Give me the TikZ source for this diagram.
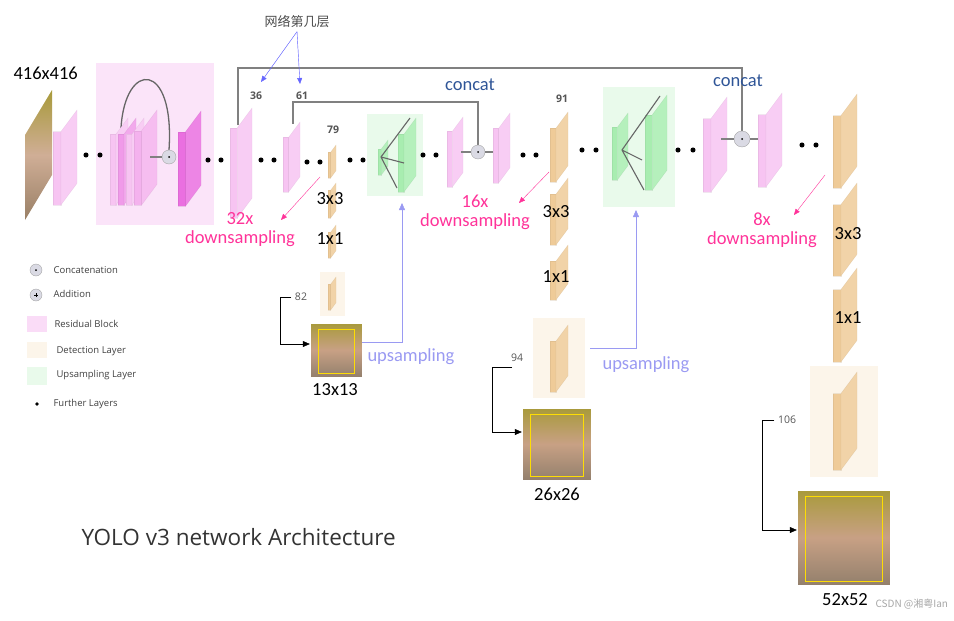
\documentclass[tikz,border=0pt]{standalone}
\usepackage{fontspec}
\setmainfont{Carlito}
\newfontfamily\legendfont{Open Sans}
\newfontfamily\cjk{Noto Sans CJK SC}
\usetikzlibrary{arrows.meta,positioning}
\definecolor{respink}{HTML}{F7C4F2}
\definecolor{resdark}{HTML}{EA6FE0}
\definecolor{resmid}{HTML}{F09AE9}
\definecolor{resmix}{HTML}{F4B2EE}
\definecolor{detorange}{HTML}{EFCB98}
\definecolor{upgreen}{HTML}{A8EDB0}
\definecolor{downpink}{HTML}{FF3399}
\definecolor{upviolet}{HTML}{9A9AF2}
\definecolor{concatblue}{HTML}{2F5597}
\definecolor{numgray}{HTML}{555555}
\definecolor{leaf}{HTML}{A89A3A}
\definecolor{fur}{HTML}{B07850}
% slab: x1, x2, ytop, ybottom, colour
\newcommand\slab[5]{%
  \pgfmathsetmacro\fw{(#2-#1)*0.33}%
  \pgfmathsetmacro\rs{(#2-#1)*0.9}%
  \fill[#5,draw=#5!80!black,draw opacity=.25] (#1,#3+\rs) rectangle (#1+\fw,#4);
  \fill[#5!85!white,draw=#5!80!black,draw opacity=.25] (#1+\fw,#3+\rs) -- (#2,#3) -- (#2,#4-\rs) -- (#1+\fw,#4) -- cycle;}
\newcommand\photo[5]{% name, x1, y1, x2, y2
  \node[inner sep=0pt,minimum width=#4-#2,minimum height=#5-#3,
        top color=leaf,bottom color=gray!70!brown,middle color=fur!70!white,
        draw=white] (#1) at ({(#2+#4)/2},{(#3+#5)/2}) {};
  \draw[yellow!80!orange,thin] ([shift={(8pt,-6pt)}]#1.north west) rectangle ([shift={(-8pt,4pt)}]#1.south east);}
\tikzset{
  dot/.style={circle,fill=black,inner sep=1.8pt},
  sum/.style={circle,draw=gray!70,fill=blue!15!gray!25,inner sep=0pt,minimum size=14pt,
    path picture={\fill[black] (path picture bounding box.center) circle (1pt);}},
  lab/.style={font=\fontsize{18.5}{19}\selectfont},
  down/.style={lab,text=downpink,align=center},
  num/.style={font=\legendfont\bfseries\fontsize{10.5}{11}\selectfont,text=numgray},
  legend/.style={font=\legendfont\fontsize{9.5}{10}\selectfont,text=black!75,anchor=west},
  pipe/.style={draw=gray,line width=1.4pt},
}
\begin{document}
\begin{tikzpicture}[x=1pt,y=-1pt]
\useasboundingbox (0,0) rectangle (954,621);
% backgrounds
\fill[respink!45] (96,63) rectangle (214,225);
\fill[upgreen!25] (367,114) rectangle (423,196);
\fill[upgreen!25] (603,87) rectangle (675,207);
\fill[detorange!20] (320,272) rectangle (345,316);
\fill[detorange!20] (533,318) rectangle (585,398);
\fill[detorange!20] (810,366) rectangle (878,477);
% skip connections
\draw[pipe] (238,125) -- (238,68) -- (742,68) -- (742,132);
\draw[pipe] (293,124) -- (293,102) -- (478,102) -- (478,146);
% input image
\shade[top color=leaf,bottom color=gray!60!brown,middle color=fur!60!white] (25,135) -- (52,90) -- (52,175) -- (25,220) -- cycle;
\node[lab,anchor=west] (insize) at (10,73) {416x416};
\slab{53}{77}{110}{205}{respink}
% residual block
\draw[gray!80!black,line width=1.3pt] (121,128) .. controls (125,60) and (175,60) .. (169,150);
\slab{110}{128}{118}{205}{respink}
\slab{118}{136}{118}{205}{resmid}
\slab{126}{144}{118}{205}{respink}
\slab{134}{157}{110}{205}{resmix}
\node[sum] (add) at (169,157) {};
\draw[gray,line width=1.2pt] (150,157) -- (add);
\slab{178}{201}{111}{206}{resdark}
% backbone
\slab{230}{252}{108}{218}{respink}
\slab{283}{300}{122}{192}{respink}
\node[num] (n36) at (256,96) {36};
\node[num] (n61) at (302,96) {61};
\node[font=\cjk\fontsize{13}{13}\selectfont,text=black!70] (cn) at (297,22) {网络第几层};
\draw[-{Triangle[length=6pt,width=5pt]},draw=blue!60,fill=blue!60,thin] (cn.south) -- (261,82);
\draw[-{Triangle[length=6pt,width=5pt]},draw=blue!60,fill=blue!60,thin] (cn.south) -- (300,84);
% scale 1
\slab{328}{336}{145}{178}{detorange}
\slab{328}{336}{183}{218}{detorange}
\slab{328}{336}{225}{258}{detorange}
\slab{328}{336}{277}{310}{detorange}
\node[num] (n79) at (333,130) {79};
\node[lab] (k1a) at (330,199) {3x3};
\node[lab] (k1b) at (330,239) {1x1};
\node[num,font=\legendfont\fontsize{10.5}{11}\selectfont] (n82) at (301,297) {82};
\photo{img1}{310}{323}{362}{377}
\node[lab] (s1) at (335,390) {13x13};
\draw[-{Triangle[length=7pt,width=6pt]}] (n82.west) -- (280,297) -- (280,344) -- (img1.west |- 0,344);
\node[down] (d32) at (240,230) {32x\\downsampling};
\draw[-{Triangle[length=6pt,width=5pt]},downpink] (320,177) -- (281,220);
% upsample 1
\draw[upviolet,-{Triangle[length=7pt,width=6pt]}] (img1.east |- 0,342) -- (402,342) -- (402,203);
\node[lab,text=upviolet,anchor=west] (up1) at (364,357) {upsampling};
\slab{378}{388}{140}{175}{upgreen}
\slab{398}{416}{118}{192}{upgreen}
\draw[gray!80!black,line width=1.1pt] (410,118) -- (381,157) -- (397,188) (381,157) -- (404,163);
% concat 1
\slab{447}{463}{117}{187}{respink}
\node[sum] (cat1) at (478,152) {};
\draw[gray,line width=1.4pt] (461,152) -- (cat1) -- (494,152);
\slab{493}{510}{113}{183}{respink}
\node[lab,text=concatblue] (c1) at (470,85) {concat};
% scale 2
\slab{550}{568}{112}{182}{detorange}
\slab{550}{568}{178}{245}{detorange}
\slab{550}{568}{245}{300}{detorange}
\slab{550}{568}{325}{392}{detorange}
\node[num] (n91) at (562,99) {91};
\node[lab] (k2a) at (556,212) {3x3};
\node[lab] (k2b) at (556,277) {1x1};
\node[num,font=\legendfont\fontsize{10.5}{11}\selectfont] (n94) at (517,358) {94};
\photo{img2}{522}{408}{591}{480}
\node[lab] (s2) at (557,494) {26x26};
\coordinate (t2) at (512,367);
\draw[-{Triangle[length=7pt,width=6pt]}] (t2) -- (492,367) -- (492,432) -- (img2.west |- 0,432);
\node[down] (d16) at (475,212) {16x\\downsampling};
\draw[-{Triangle[length=6pt,width=5pt]},downpink] (549,172) -- (519,203);
% upsample 2
\coordinate (u2) at (590,348);
\draw[upviolet,-{Triangle[length=7pt,width=6pt]}] (u2) -- (636,348) -- (636,210);
\node[lab,text=upviolet,anchor=west] (up2) at (599,365) {upsampling};
\slab{612}{628}{113}{180}{upgreen}
\slab{645}{667}{95}{190}{upgreen}
\draw[gray!80!black,line width=1.1pt] (660,96) -- (622,150) -- (644,190) (622,150) -- (642,160);
% concat 2
\slab{703}{727}{97}{192}{respink}
\node[sum,minimum size=16pt] (cat2) at (742,139) {};
\draw[gray,line width=1.4pt] (721,139) -- (cat2) -- (760,139);
\slab{758}{782}{93}{187}{respink}
\node[lab,text=concatblue] (c2) at (738,81) {concat};
% scale 3
\slab{833}{857}{94}{188}{detorange}
\slab{833}{857}{183}{276}{detorange}
\slab{833}{857}{268}{362}{detorange}
\slab{833}{857}{372}{470}{detorange}
\node[lab] (k3a) at (848,234) {3x3};
\node[lab] (k3b) at (848,318) {1x1};
\node[num,font=\legendfont\fontsize{10.5}{11}\selectfont] (n106) at (787,420) {106};
\photo{img3}{797}{490}{890}{585}
\node[lab] (s3) at (845,600) {52x52};
\draw[-{Triangle[length=7pt,width=6pt]}] (n106.west) -- (762,420) -- (762,530) -- (img3.west |- 0,530);
\node[down] (d8) at (762,230) {8x\\downsampling};
\draw[-{Triangle[length=6pt,width=5pt]},downpink] (825,175) -- (794,215);
% further-layer dots
\foreach \x/\y in {86/155,100/155,208/160,221/160,261/160,274/160,307/162,320/162,
  350/160,363/160,423/155,436/155,523/155,536/155,582/150,596/150,678/150,693/150,802/145,816/145}
  \node[dot] at (\x,\y) {};
% legend
\node[sum,minimum size=12pt] (lcat) at (36,270) {};
\node[sum,minimum size=12pt,path picture={\draw[black,line width=.6pt] (path picture bounding box.center) +(-2pt,0) -- +(2pt,0) +(0,-2pt) -- +(0,2pt);}] (ladd) at (36,295) {};
\fill[respink!60] (27,316) rectangle (47,332);
\fill[detorange!20] (27,342) rectangle (47,358);
\fill[upgreen!25] (27,367) rectangle (47,385);
\node[dot,inner sep=1.3pt] (ldot) at (37,404) {};
\node[legend] at (50,270) {Concatenation};
\node[legend] at (50,294) {Addition};
\node[legend] at (51,324) {Residual Block};
\node[legend] at (53,351) {Detection Layer};
\node[legend] at (53,375) {Upsampling Layer};
\node[legend] at (50,404) {Further Layers};
\node[font=\legendfont\fontsize{22.5}{23}\selectfont,text=black!80,anchor=west] (title) at (78,537) {YOLO v3 network Architecture};
\node[font=\cjk\fontsize{10}{10}\selectfont,text=gray!70,anchor=west] (wm) at (872,604) {CSDN @湘粤Ian};
\end{tikzpicture}
\end{document}
